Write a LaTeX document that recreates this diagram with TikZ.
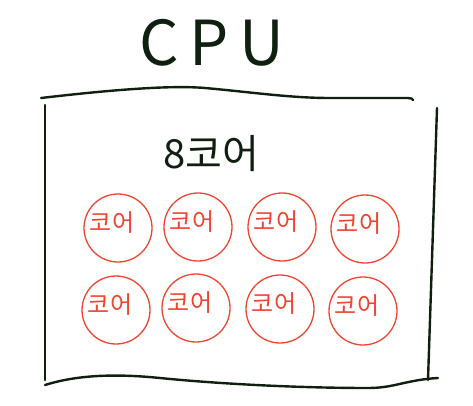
\documentclass[tikz,border=0pt]{standalone}
\usepackage{fontspec}
\setmainfont{Noto Sans CJK KR}
\usetikzlibrary{positioning, calc}
\usepackage{xcolor}
\definecolor{corered}{HTML}{EE4430}
\definecolor{inkdark}{HTML}{102010}

\begin{document}
\begin{tikzpicture}[
  x=1pt, y=-1pt,
  title/.style={
    font=\fontsize{62}{62}\selectfont, text=inkdark, inner sep=0pt
  },
  countlabel/.style={
    font=\fontsize{40}{40}\selectfont, text=inkdark, inner sep=0pt
  },
  core/.style={
    circle, draw=corered, line width=1.3pt,
    minimum size=68pt, inner sep=0pt,
    label={[corelabel]center:코어}
  },
  corelabel/.style={
    font=\fontsize{24}{24}\selectfont, text=corered,
    inner sep=0pt, xshift=-6pt, yshift=5pt
  },
  frame/.style={
    draw=inkdark, line width=2.4pt, line cap=round
  }
]
  \useasboundingbox (0,0) rectangle (473,406);

  \node[title] (cpu) at (212,43) {C\,P\,U};

  % hand drawn box
  \draw[frame] (41,98) .. controls (110,90) and (170,85) .. (205,88)
    .. controls (250,92) and (290,98) .. (330,98) -- (408,98)
    .. controls (411,98) and (413,99) .. (413,100);
  \draw[frame] (45,105) -- (45,380);
  \draw[frame] (437,108) -- (428,380);
  \draw[frame] (45,385) .. controls (80,374) and (120,374) .. (160,378)
    .. controls (220,384) and (300,388) .. (368,388)
    .. controls (395,388) and (405,380) .. (438,378);

  \node[countlabel] (count) at (211,154) {8코어};

  \node[core] (c1) at (118,228) {};
  \node[core] (c2) at (198,227) {};
  \node[core] (c3) at (282,227) {};
  \node[core] (c4) at (365,229) {};

  \node[core] (c5) at (116,310) {};
  \node[core] (c6) at (196,308) {};
  \node[core] (c7) at (280,309) {};
  \node[core] (c8) at (363,311) {};
\end{tikzpicture}
\end{document}
